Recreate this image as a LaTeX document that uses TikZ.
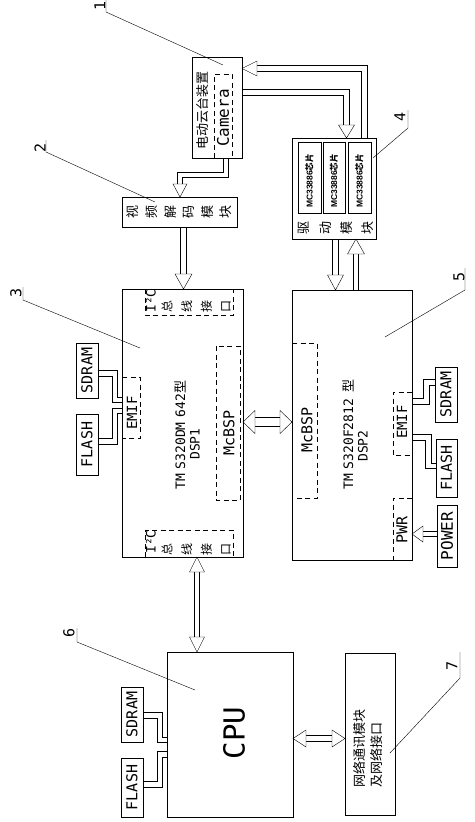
\documentclass[tikz,border=0pt]{standalone}
\usepackage{fontspec}
\newfontfamily\cad{DejaVu Sans Mono}
\newfontfamily\cjk{Noto Sans CJK SC}
\newfontfamily\arialf{Liberation Sans}
\pgfdeclarelayer{background}
\pgfsetlayers{background,main}
\newcommand\fs[1]{\fontsize{#1}{#1}\selectfont}
\newcommand\ahead[4]{\draw[fill=white,shift={#1},rotate=#2] (0,0) -- (-#4,#3) -- (-#4,-#3) -- cycle;}
\begin{document}
\begin{tikzpicture}[x=1pt,y=-1pt,line width=0.9pt,line join=miter,
  box/.style={draw,inner sep=0pt},
  txt/.style={inner sep=0pt,rotate=90},
  zh/.style={inner sep=0pt,rotate=90,font=\cjk\fs{13}},
  zhs/.style={inner sep=0pt,rotate=90,font=\cjk\fs{12}},
  dsh/.style={dash pattern=on 5pt off 3.5pt},
  bus/.style={double distance=4.6pt,line width=0.85pt},
  fat/.style={double distance=7.5pt,line width=0.85pt}]
\useasboundingbox (0,0) rectangle (474,822);
\begin{pgfonlayer}{background}
\fill[white] (0,0) rectangle (474,822);
\end{pgfonlayer}

% ---------- boxes ----------
\node[box,minimum width=50pt,minimum height=101pt] (cam) at (217,107.5) {};
\node[box,minimum width=115pt,minimum height=30pt] (dec) at (179.5,212) {};
\node[box,minimum width=84pt,minimum height=101pt] (drv) at (334,188.5) {};
\node[box,minimum width=23pt,minimum height=71pt] (c1) at (309.5,177.5) {};
\node[box,minimum width=22pt,minimum height=71pt] (c2) at (334,177.5) {};
\node[box,minimum width=23pt,minimum height=71pt] (c3) at (359.5,177.5) {};
\node[box,minimum width=121pt,minimum height=268pt] (dsp1) at (182.5,423) {};
\node[box,minimum width=120pt,minimum height=270pt] (dsp2) at (352,425) {};
\node[box,minimum width=22pt,minimum height=55pt] (sd1) at (87,370.5) {};
\node[box,minimum width=22pt,minimum height=61pt] (fl1) at (87,444.5) {};
\node[box,minimum width=22pt,minimum height=55pt] (sd2) at (446,394.5) {};
\node[box,minimum width=21pt,minimum height=58pt] (fl2) at (446.5,468) {};
\node[box,minimum width=20pt,minimum height=62pt] (pw2) at (447,536) {};
\node[box,minimum width=126pt,minimum height=165pt] (cpu) at (230,734.5) {};
\node[box,minimum width=22pt,minimum height=55pt] (sd3) at (132,714.5) {};
\node[box,minimum width=22pt,minimum height=59pt] (fl3) at (132,787.5) {};
\node[box,minimum width=50pt,minimum height=162pt] (net) at (370,734) {};

% ---------- dashed sub-boxes ----------
\draw[dsh] (214,158) -- (214,74) -- (232,74) -- (232,158);
\draw[dsh] (145,289) -- (145,315) -- (233,315) -- (233,289);
\draw[dsh] (145,557) -- (145,530) -- (233,530) -- (233,557);
\draw[dsh] (216,346) rectangle (240,500);
\draw[dsh] (122,377) -- (140,377) -- (140,438) -- (122,438);
\draw[dsh] (292,343) -- (317,343) -- (317,498) -- (292,498);
\draw[dsh] (412,392) -- (393,392) -- (393,455) -- (412,455);
\draw[dsh] (412,498) -- (393,498) -- (393,560);

% ---------- texts ----------
\node[zh] (camt) at (203,110) {电动云台装置};
\node[txt,font=\cad\fs{16}] (camc) at (223,118) {Camera};
% video decoder row
\node[zh] (dec0) at (133,212) {视};
\node[zh] (dec1) at (151.6,212) {频};
\node[zh] (dec2) at (170.2,212) {解};
\node[zh] (dec3) at (188.8,212) {码};
\node[zh] (dec4) at (207.4,212) {模};
\node[zh] (dec5) at (226,212) {块};
% driver row
\node[zh] (drv0) at (304,228) {驱};
\node[zh] (drv1) at (325.3,228) {动};
\node[zh] (drv2) at (346.6,228) {模};
\node[zh] (drv3) at (367.9,228) {块};
\node[txt,font=\arialf\bfseries\fs{8.5}] (c1t) at (309.5,181) {MC33886\cjk 芯片};
\node[txt,font=\arialf\bfseries\fs{8.5}] (c2t) at (334,181) {MC33886\cjk 芯片};
\node[txt,font=\arialf\bfseries\fs{8.5}] (c3t) at (359.5,181) {MC33886\cjk 芯片};

\node[txt,font=\cad\fs{13},anchor=west] (d1a) at (180,490) {TM\hspace{5pt}S320DM\hspace{5pt}642{\cjk 型}};
\node[txt,font=\cad\fs{13},anchor=west] (d1b) at (195,460) {DSP1};
\node[txt,font=\cad\fs{13},anchor=west] (d2a) at (348,490) {TM\hspace{5pt}S320F2812\hspace{6pt}{\cjk 型}};
\node[txt,font=\cad\fs{13},anchor=west] (d2b) at (363,462) {DSP2};

% I2C interfaces
\node[txt,font=\cad\fs{13}] (i2a) at (151,301) {I²C};
\node[zhs] (ia0) at (167,306) {总};
\node[zhs] (ia1) at (186.7,306) {线};
\node[zhs] (ia2) at (206.4,306) {接};
\node[zhs] (ia3) at (226.1,306) {口};
\node[txt,font=\cad\fs{13}] (i2b) at (151,542) {I²C};
\node[zhs] (ib0) at (167,549) {总};
\node[zhs] (ib1) at (186.7,549) {线};
\node[zhs] (ib2) at (206.4,549) {接};
\node[zhs] (ib3) at (226.1,549) {口};

\node[txt,font=\cad\fs{15}] (mc1) at (229,433) {McBSP};
\node[txt,font=\cad\fs{15}] (mc2) at (307,430) {McBSP};
\node[txt,font=\cad\fs{14}] (em1) at (132,413) {EMIF};
\node[txt,font=\cad\fs{14}] (em2) at (402,422) {EMIF};
\node[txt,font=\cad\fs{15}] (pwr) at (402,530) {PWR};
\node[txt,font=\cad\fs{15}] (sd1t) at (sd1) {SDRAM};
\node[txt,font=\cad\fs{15}] (fl1t) at (fl1) {FLASH};
\node[txt,font=\cad\fs{15}] (sd2t) at (sd2) {SDRAM};
\node[txt,font=\cad\fs{15}] (fl2t) at (fl2) {FLASH};
\node[txt,font=\cad\fs{16}] (pw2t) at (pw2) {POWER};
\node[txt,font=\cad\fs{15}] (sd3t) at (sd3) {SDRAM};
\node[txt,font=\cad\fs{15}] (fl3t) at (fl3) {FLASH};
\node[txt,font=\cad\fs{29}] (cput) at (234,733) {CPU};
\node[zh,anchor=west] (n1) at (360,788) {网络通讯模块};
\node[zh,anchor=west] (n2) at (376,788) {及网络接口};

% ---------- labels ----------
\node[txt,font=\cad\fs{15}] (l1) at (100,6) {1};
\draw (106,0) -- (106,12) -- (223,65);
\node[txt,font=\cad\fs{15}] (l2) at (40,148) {2};
\draw (46,140) -- (46,152) -- (155,202);
\node[txt,font=\cad\fs{15}] (l3) at (16,293) {3};
\draw (23,287) -- (23,300) -- (140,348);
\node[txt,font=\cad\fs{15}] (l4) at (400,117) {4};
\draw (408,110) -- (408,128) -- (373,158);
\node[txt,font=\cad\fs{15}] (l5) at (459,277) {5};
\draw (465,268) -- (465,290) -- (385,337);
\node[txt,font=\cad\fs{15}] (l6) at (69,633) {6};
\draw (77,628) -- (77,642) -- (195,690);
\node[txt,font=\cad\fs{15}] (l7) at (452,666) {7};
\draw (460,652) -- (460,678) -- (390,753);

% ---------- connectors ----------
\begin{pgfonlayer}{background}
% buses
\draw[bus] (98,373.5) -- (115,373.5) -- (115,400) -- (122,400);
\draw[bus] (98,441.5) -- (115,441.5) -- (115,411) -- (122,411);
\draw[bus] (435,382.5) -- (426.5,382.5) -- (426.5,401.5) -- (412,401.5);
\draw[bus] (412,437.5) -- (428.5,437.5) -- (428.5,466) -- (436,466);
\draw[bus] (143,715.5) -- (160,715.5) -- (160,740) -- (167,740);
\draw[bus] (143,784.5) -- (160,784.5) -- (160,754.5) -- (167,754.5);
% hollow arrows
\draw[bus] (364.5,138) -- (364.5,68.5) -- (256,68.5);
\ahead{(242,68.5)}{180}{7.5}{15}
\draw[bus] (242,92.5) -- (346.5,92.5) -- (346.5,126);
\ahead{(346.5,138)}{-90}{8}{13}
\draw[bus] (226,158) -- (226,175) -- (180,175) -- (180,185);
\ahead{(180,197)}{-90}{7}{13}
\draw[bus] (183.5,227) -- (183.5,275);
\ahead{(183.5,289)}{-90}{8.5}{15}
\draw[bus] (335.5,239) -- (335.5,276);
\ahead{(335.5,290)}{-90}{8}{15}
\draw[bus] (356,290) -- (356,253);
\ahead{(356,239)}{90}{8.5}{15}
\draw[fat] (254,422) -- (281,422);
\ahead{(243,422)}{180}{11.5}{12}
\ahead{(292,422)}{0}{11.5}{12}
\draw[bus] (197,571) -- (197,638);
\ahead{(197,557)}{90}{7.5}{15}
\ahead{(197,652)}{-90}{7.5}{15}
\draw[bus] (305,738.5) -- (333,738.5);
\ahead{(293,738.5)}{180}{8.5}{13}
\ahead{(345,738.5)}{0}{8.5}{13}
\draw[bus] (437,534) -- (422,534);
\ahead{(412,534)}{180}{8}{11}
\end{pgfonlayer}
\end{tikzpicture}
\end{document}
